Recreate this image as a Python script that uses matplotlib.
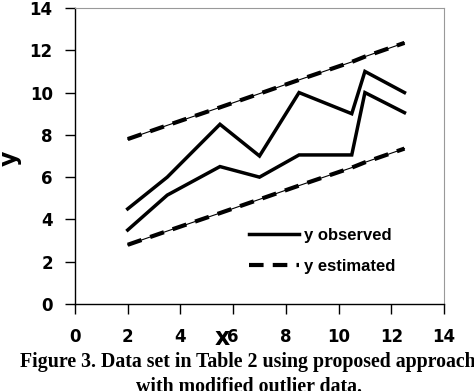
import matplotlib
matplotlib.use("Agg")
import matplotlib.pyplot as plt
from matplotlib.lines import Line2D

# data
x_vals = [2, 3.5, 5.5, 7, 8.5, 10.5, 11, 12.5]
y_obs_upper = [4.5, 6.0, 8.5, 7.0, 10.0, 9.0, 11.0, 10.0]
y_obs_lower = [3.5, 5.15, 6.5, 6.0, 7.05, 7.05, 10.0, 9.05]
y_est_upper = [7.8, 8.45, 9.3, 9.95, 10.6, 11.45, 11.7, 12.35]
y_est_lower = [2.8, 3.45, 4.3, 4.95, 5.6, 6.45, 6.7, 7.35]

x_ticks = [0, 2, 4, 6, 8, 10, 12, 14]
y_ticks = [0, 2, 4, 6, 8, 10, 12, 14]

W, H = 474, 391
fig = plt.figure(figsize=(W / 100, H / 100), dpi=100)
ax = fig.add_axes([75 / W, 1 - 304 / H, 369 / W, 296 / H])

for ys in (y_obs_upper, y_obs_lower):
    ax.plot(x_vals, ys, color="black", lw=2.5, solid_joinstyle="miter")
for ys in (y_est_upper, y_est_lower):
    ax.plot(x_vals, ys, color="black", lw=0.8)
    ax.plot(x_vals, ys, color="black", lw=3, dashes=(3.5, 2.2))

ax.set_xlim(0, 14)
ax.set_ylim(0, 14)
ax.set_xticks(x_ticks)
ax.set_yticks(y_ticks)

tick_font = {"family": "DejaVu Sans", "weight": "bold", "size": 12}
ax.set_xticklabels([str(t) for t in x_ticks], fontdict=tick_font)
ax.set_yticklabels([str(t) for t in y_ticks], fontdict=tick_font)
ax.tick_params(axis="x", direction="out", length=7, width=1, pad=10)
ax.tick_params(axis="y", direction="out", length=7, width=1, pad=9)

for side in ("left", "bottom"):
    ax.spines[side].set_color("black")
    ax.spines[side].set_linewidth(1)
for side in ("top", "right"):
    ax.spines[side].set_color("#999999")
    ax.spines[side].set_linewidth(0.8)

handles = [
    Line2D([], [], color="black", lw=2.5),
    Line2D([], [], color="black", lw=3, dashes=(3.5, 2.2)),
]
ax.legend(handles, ["y observed", "y estimated"], loc="lower right",
          bbox_to_anchor=(0.91, 0.05), frameon=False, handlelength=2.95,
          handletextpad=0.35, labelspacing=1.0,
          prop={"family": "Liberation Sans", "weight": "bold", "size": 12})

fig.text(222 / W, 1 - 338 / H, "x", ha="center", va="center",
         fontsize=17, fontweight="bold", family="DejaVu Sans")
fig.text(10 / W, 1 - 158 / H, "y", ha="center", va="center", rotation=90,
         fontsize=17, fontweight="bold", family="DejaVu Sans")

fig.text(20 / W, 1 - 362 / H, "Figure 3. Data set in Table 2 using proposed approach",
         ha="left", va="center", fontsize=14.3, fontweight="bold",
         family="Liberation Serif")
fig.text(0.525, 1 - 387 / H, "with modified outlier data.",
         ha="center", va="center", fontsize=14.3, fontweight="bold",
         family="Liberation Serif")

fig.savefig("out.png", dpi=100)
